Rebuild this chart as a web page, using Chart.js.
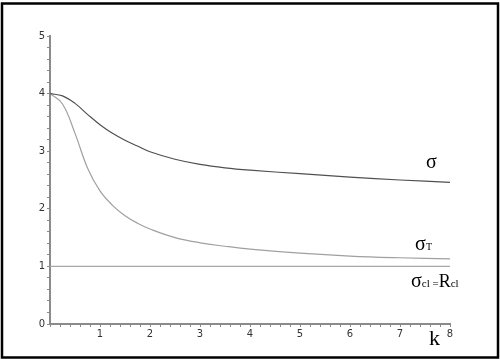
<!DOCTYPE html>
<html>
<head>
<meta charset="UTF-8">
<title>sigma vs k</title>
<script src="https://cdn.jsdelivr.net/npm/chart.js@4.4.1/dist/chart.umd.min.js"></script>
<style>
    html, body { margin: 0; padding: 0; background: #fff; }
    #wrap { width: 500px; height: 361px; }
</style>
</head>
<body>
<div id="wrap"><canvas id="grafica"></canvas></div>
<script>
// values
const kValues = [0, 0.25, 0.5, 0.75, 1, 1.25, 1.5, 1.75, 2, 2.5, 3, 3.5, 4, 5, 6, 7, 8];
const sigma   = [4, 3.96, 3.83, 3.64, 3.46, 3.31, 3.19, 3.09, 2.99, 2.86, 2.77, 2.71, 2.67, 2.61, 2.55, 2.50, 2.46];
const sigmaT  = [4, 3.82, 3.31, 2.71, 2.31, 2.06, 1.88, 1.75, 1.65, 1.50, 1.41, 1.35, 1.30, 1.23, 1.18, 1.15, 1.13];
const sigmaCl = [1, 1];
const sigmaClK = [0, 8];
const yTicks = [0, 1, 2, 3, 4, 5];
const xTicks = [1, 2, 3, 4, 5, 6, 7, 8];

function pares(xs, ys) {
    return xs.map((x, i) => ({ x: x, y: ys[i] }));
}

function esEntero(v, lista) {
    const r = Math.round(v);
    return Math.abs(v - r) < 1e-6 && lista.includes(r);
}

const etiquetas = {
    id: "etiquetas",
    afterDraw(chart) {
        const ctx = chart.ctx;
        const x = chart.scales.x, y = chart.scales.y;
        ctx.save();
        ctx.fillStyle = "#000";
        ctx.textBaseline = "alphabetic";
        ctx.font = "20px 'Liberation Serif'";
        ctx.fillText("σ", x.getPixelForValue(7.52), y.getPixelForValue(2.70));
        ctx.fillText("σ", x.getPixelForValue(7.3), y.getPixelForValue(1.29));
        ctx.font = "10px 'Liberation Serif'";
        ctx.fillText("T", x.getPixelForValue(7.3) + 11, y.getPixelForValue(1.29));
        // sigma_cl = R_cl
        ctx.font = "20px 'Liberation Serif'";
        let px = x.getPixelForValue(7.22), py = y.getPixelForValue(0.64);
        ctx.fillText("σ", px, py);
        px += ctx.measureText("σ").width;
        ctx.font = "11px 'Liberation Serif'";
        ctx.fillText("cl", px, py);
        px += ctx.measureText("cl ").width;
        ctx.fillText("=", px, py);
        px += ctx.measureText("=").width;
        ctx.font = "18px 'Liberation Serif'";
        ctx.fillText("R", px, py);
        px += ctx.measureText("R").width;
        ctx.font = "11px 'Liberation Serif'";
        ctx.fillText("cl", px, py);
        // axis name
        ctx.font = "22px 'Liberation Serif'";
        ctx.fillText("k", x.getPixelForValue(7.58), y.bottom + 21);
        // frame
        ctx.strokeStyle = "#000";
        ctx.lineWidth = 2.5;
        ctx.strokeRect(2, 3.5, 496, 354);
        ctx.restore();
    }
};

new Chart(document.getElementById("grafica"), {
    type: "line",
    data: {
        datasets: [
            { label: "sigma", data: pares(kValues, sigma), borderColor: "#505050", borderWidth: 1.2, tension: 0.4 },
            { label: "sigmaT", data: pares(kValues, sigmaT), borderColor: "#a0a0a0", borderWidth: 1.2, tension: 0.4 },
            { label: "sigmaCl", data: pares(sigmaClK, sigmaCl), borderColor: "#a8a8a8", borderWidth: 1.2 }
        ]
    },
    options: {
        responsive: true,
        maintainAspectRatio: false,
        animation: false,
        devicePixelRatio: 1,
        elements: { point: { radius: 0 } },
        plugins: { legend: { display: false }, tooltip: { enabled: false } },
        layout: { padding: { left: 0, right: 50, top: 36, bottom: 0 } },
        scales: {
            x: {
                type: "linear", min: 0, max: 8,
                afterFit: s => { s.height = 37; },
                border: { color: "#8a8a8a", width: 2 },
                grid: { drawOnChartArea: false, color: "#8a8a8a", tickLength: 3 },
                ticks: {
                    stepSize: 0.2, autoSkip: false, maxRotation: 0, padding: 1,
                    color: "#333", font: { size: 10, family: "DejaVu Sans" },
                    callback: v => esEntero(v, xTicks) ? String(Math.round(v)) : ""
                }
            },
            y: {
                type: "linear", min: 0, max: 5,
                afterFit: s => { s.width = 50; },
                border: { color: "#8a8a8a", width: 2 },
                grid: { drawOnChartArea: false, color: "#8a8a8a", tickLength: 3 },
                ticks: {
                    stepSize: 0.2, autoSkip: false, padding: 2,
                    color: "#333", font: { size: 10, family: "DejaVu Sans" },
                    callback: v => esEntero(v, yTicks) ? String(Math.round(v)) : ""
                }
            }
        }
    },
    plugins: [etiquetas]
});
</script>
</body>
</html>
